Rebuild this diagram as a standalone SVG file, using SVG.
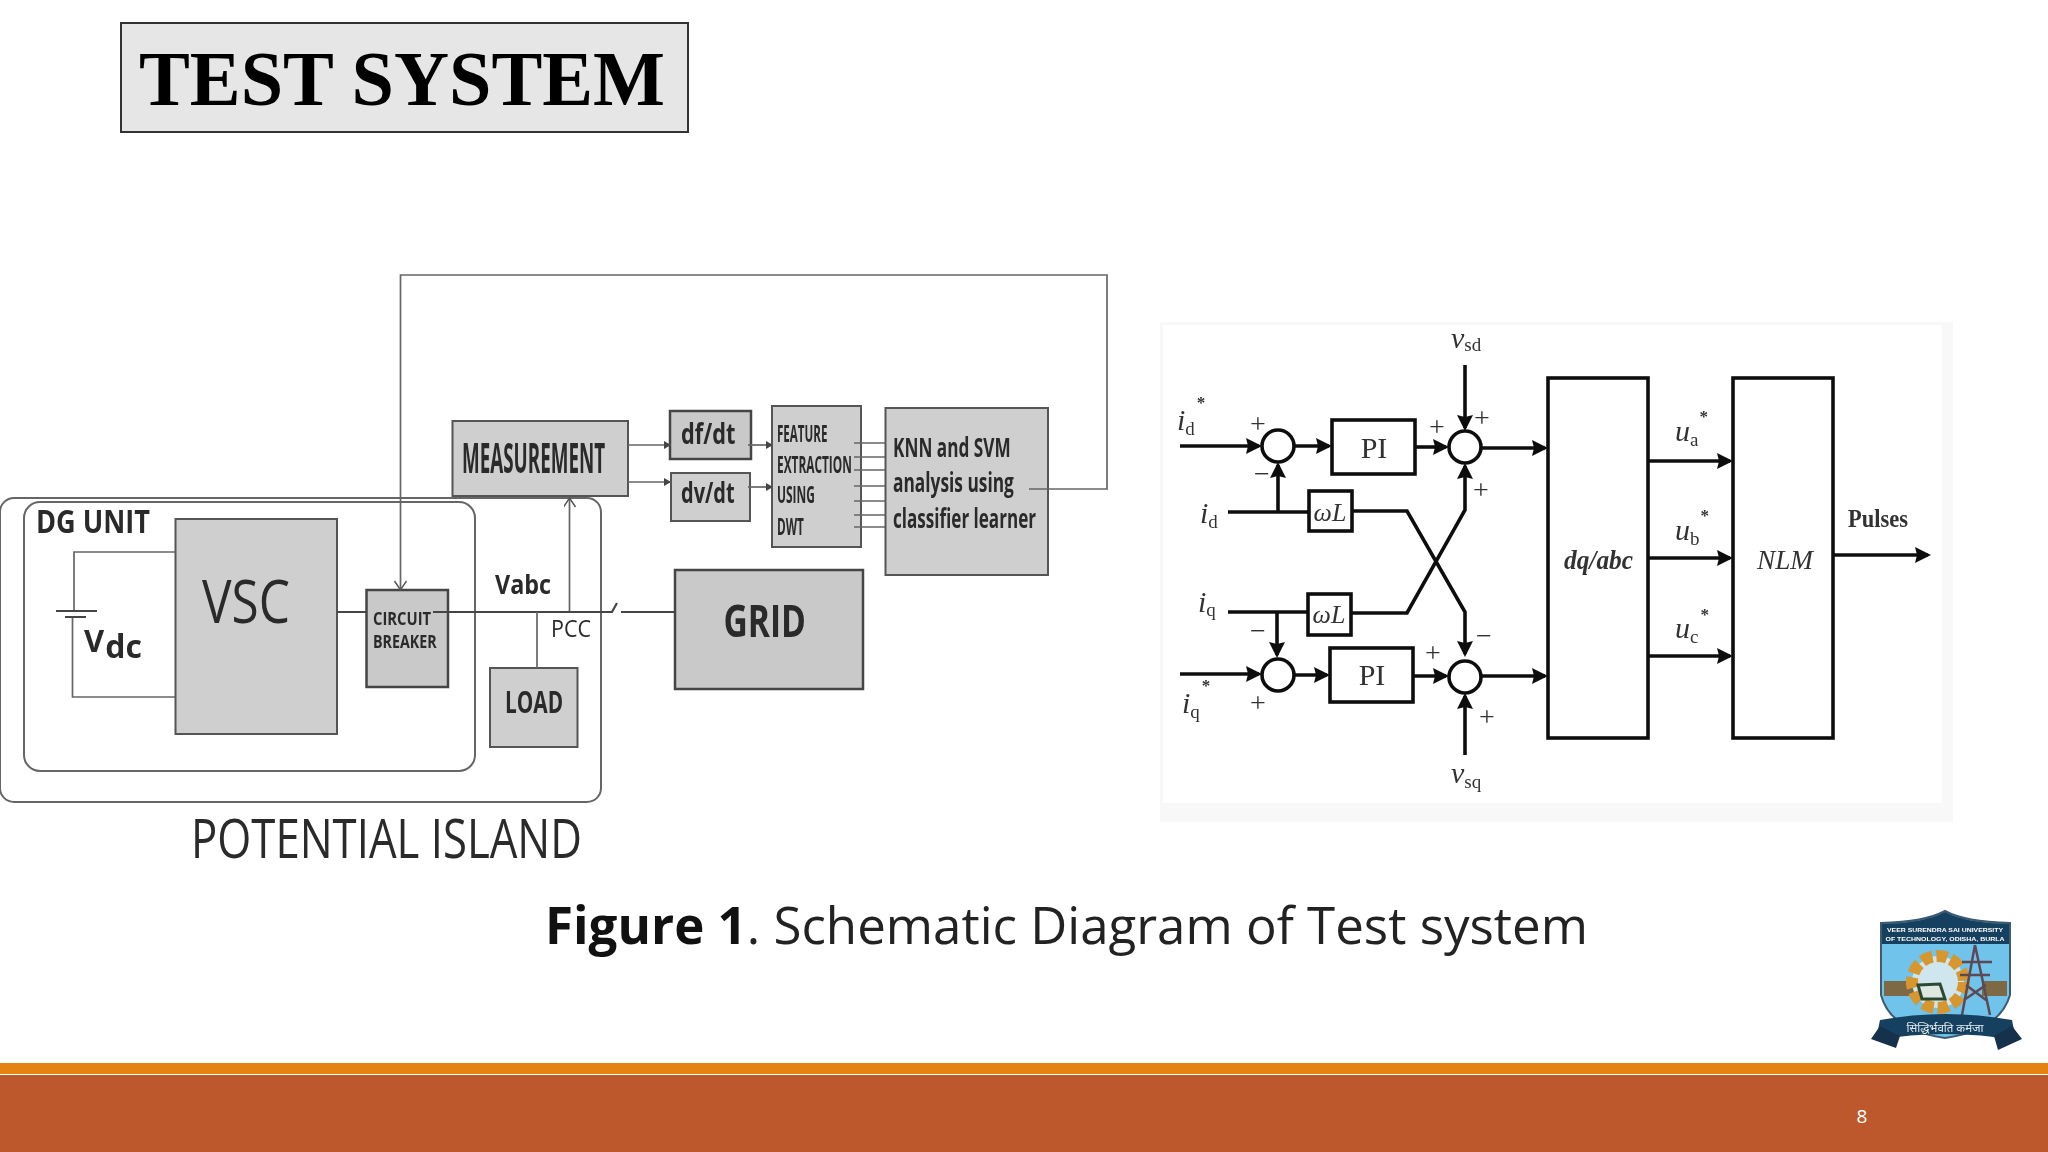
<svg xmlns="http://www.w3.org/2000/svg" width="2048" height="1152" viewBox="0 0 2048 1152">
<style>
.box{fill:#cfcfcf;stroke:#555;stroke-width:2}
.dark{fill:#c9c9c9;stroke:#444;stroke-width:2.5}
.frame{fill:none;stroke:#666;stroke-width:2}
.w{fill:none;stroke:#666;stroke-width:1.7}
.wd{fill:none;stroke:#444;stroke-width:2.2}
.k{fill:#fff;stroke:#111;stroke-width:3.6}
.ln{fill:none;stroke:#111;stroke-width:3.6}
.s{font-family:"Open Sans","DejaVu Sans",sans-serif;fill:#2b2b2b}
.b{font-weight:700}
.r{font-family:"Liberation Serif",serif;fill:#333}
.i{font-style:italic}
.sub{font-size:19px;font-style:normal}
.st{font-size:17px;font-style:normal;font-weight:700}
.p{font-family:"Liberation Serif",serif;font-size:28px;fill:#333;text-anchor:middle}
</style>
<defs>
<filter id="soft" filterUnits="userSpaceOnUse" x="0" y="0" width="2048" height="1152"><feGaussianBlur stdDeviation="0.55"/></filter>
<marker id="fa" markerUnits="userSpaceOnUse" markerWidth="20" markerHeight="20" refX="13" refY="8" orient="auto"><path d="M0 0L16 8L0 16L2 8Z" fill="#111"/></marker>
<marker id="oa" markerUnits="userSpaceOnUse" markerWidth="14" markerHeight="14" refX="10" refY="6" orient="auto"><path d="M1 0L10 6L1 12" fill="none" stroke="#555" stroke-width="1.5"/></marker>
<marker id="sa" markerUnits="userSpaceOnUse" markerWidth="10" markerHeight="10" refX="7" refY="4" orient="auto"><path d="M0 0L7 4L0 8Z" fill="#444"/></marker>
</defs>
<rect width="2048" height="1152" fill="#fff"/>

<g id="title"><rect x="121" y="23" width="567" height="109" fill="#e6e6e6" stroke="#333" stroke-width="2"/>
<text x="139" y="105" font-family="'Liberation Serif',serif" font-weight="700" font-size="78" fill="#000" textLength="526" lengthAdjust="spacingAndGlyphs">TEST SYSTEM</text></g>

<g id="panel"><rect x="1160" y="322" width="793" height="500" fill="#f8f8f8"/><rect x="1163" y="325" width="779" height="478" fill="#fff"/></g>

<g filter="url(#soft)">
<g id="potential-island"><rect x="0" y="498" width="601" height="304" rx="14" class="frame"/>
<text class="s" x="191" y="858" font-size="54" textLength="391" lengthAdjust="spacingAndGlyphs">POTENTIAL ISLAND</text></g>
<g id="dg-unit"><rect x="24" y="502" width="451" height="269" rx="16" class="frame"/>
<text class="s b" x="36" y="533" font-size="32" textLength="114" lengthAdjust="spacingAndGlyphs">DG UNIT</text></g>
<g id="vsc"><rect x="175.5" y="519" width="161.5" height="215" class="box"/>
<text class="s" x="202" y="623" font-size="60" textLength="88" lengthAdjust="spacingAndGlyphs" fill="#333">VSC</text></g>
<g id="vdc"><text class="s b" x="84" y="652" font-size="31">V<tspan dy="6" font-size="32" dx="1">dc</tspan></text></g>
<g id="circuit-breaker"><rect x="366.5" y="590" width="81.5" height="97" class="dark"/>
<text class="s b" transform="translate(373 625) scale(.7 1)" font-size="18" textLength="83" lengthAdjust="spacingAndGlyphs">CIRCUIT</text>
<text class="s b" transform="translate(373 648) scale(.7 1)" font-size="18" textLength="91" lengthAdjust="spacingAndGlyphs">BREAKER</text></g>
<g id="load"><rect x="490" y="668" width="87.5" height="79" class="box"/>
<text class="s b" transform="translate(505 713) scale(.7 1)" font-size="30" textLength="83" lengthAdjust="spacingAndGlyphs">LOAD</text></g>
<g id="measurement"><rect x="452.5" y="421" width="175.5" height="75" class="box"/>
<text class="s b" transform="translate(462 473) scale(.46 1)" font-size="41" textLength="311" lengthAdjust="spacingAndGlyphs">MEASUREMENT</text></g>
<g id="dfdt"><rect x="670" y="411" width="81" height="48" class="dark"/>
<text class="s b" transform="translate(681 444) scale(.85 1)" font-size="29" textLength="64" lengthAdjust="spacingAndGlyphs">df/dt</text></g>
<g id="dvdt"><rect x="671" y="473" width="79" height="48" class="box"/>
<text class="s b" transform="translate(681 503) scale(.8 1)" font-size="29" textLength="67" lengthAdjust="spacingAndGlyphs">dv/dt</text></g>
<g id="feature"><rect x="772" y="406" width="89" height="141" class="box"/>
<text class="s b" transform="translate(777 442) scale(.48 1)" font-size="23" textLength="105" lengthAdjust="spacingAndGlyphs">FEATURE</text>
<text class="s b" transform="translate(777 473) scale(.48 1)" font-size="23" textLength="156" lengthAdjust="spacingAndGlyphs">EXTRACTION</text>
<text class="s b" transform="translate(777 503) scale(.48 1)" font-size="23" textLength="79" lengthAdjust="spacingAndGlyphs">USING</text>
<text class="s b" transform="translate(777 535) scale(.48 1)" font-size="23" textLength="56" lengthAdjust="spacingAndGlyphs">DWT</text></g>
<g id="classifier"><rect x="885.5" y="408" width="162.5" height="167" class="box"/>
<text class="s b" transform="translate(893 457) scale(.65 1)" font-size="27" textLength="181" lengthAdjust="spacingAndGlyphs">KNN and SVM</text>
<text class="s b" transform="translate(893 492) scale(.65 1)" font-size="27" textLength="186" lengthAdjust="spacingAndGlyphs">analysis using</text>
<text class="s b" transform="translate(893 528) scale(.65 1)" font-size="27" textLength="220" lengthAdjust="spacingAndGlyphs">classifier learner</text></g>
<g id="grid"><rect x="675" y="570" width="188" height="119" class="dark"/>
<text class="s b" transform="translate(723.5 637) scale(.75 1)" font-size="45" textLength="110" lengthAdjust="spacingAndGlyphs">GRID</text></g>
<g id="labels-left">
<text class="s b" x="495" y="594" font-size="27" textLength="56" lengthAdjust="spacingAndGlyphs">Vabc</text>
<text class="s" x="551" y="637" font-size="23" textLength="40" lengthAdjust="spacingAndGlyphs">PCC</text></g>

<g id="connectors-left">
<path class="w" d="M1029 489H1107V275H400.5V590" marker-end="url(#oa)"/>
<path class="w" d="M569.5 612V498" marker-end="url(#oa)"/>
<path class="wd" d="M337 612H366M433 612H612L617 603M621 612H675"/>
<path class="w" d="M537 612V668"/>
<path class="w" d="M175 552H74V611M175 697H72.5V617"/>
<path class="wd" d="M56 611H97M65 617H86"/>
<path class="w" d="M628 445H671" marker-end="url(#sa)"/>
<path class="w" d="M628 482H671" marker-end="url(#sa)"/>
<path class="w" d="M748 445H773" marker-end="url(#sa)"/>
<path class="w" d="M748 487H773" marker-end="url(#sa)"/>
<path class="w" d="M854 443H885M854 457H885M854 470H885M854 486H885M854 501H885M854 515H885M854 527H885"/>
</g>

<g id="connectors-right">
<path class="ln" d="M1180 446H1259" marker-end="url(#fa)"/>
<path class="ln" d="M1294 446H1329" marker-end="url(#fa)"/>
<path class="ln" d="M1415 447H1446" marker-end="url(#fa)"/>
<path class="ln" d="M1481 448H1545" marker-end="url(#fa)"/>
<path class="ln" d="M1465 365V428" marker-end="url(#fa)"/>
<path class="ln" d="M1228 512H1309M1352 511H1407L1465 612V654" marker-end="url(#fa)"/>
<path class="ln" d="M1228 612H1308M1352 613H1407L1465 510V466" marker-end="url(#fa)"/>
<path class="ln" d="M1278 512V465" marker-end="url(#fa)"/>
<path class="ln" d="M1277 612V655" marker-end="url(#fa)"/>
<path class="ln" d="M1180 674H1259" marker-end="url(#fa)"/>
<path class="ln" d="M1294 675H1327" marker-end="url(#fa)"/>
<path class="ln" d="M1413 676H1446" marker-end="url(#fa)"/>
<path class="ln" d="M1481 676H1545" marker-end="url(#fa)"/>
<path class="ln" d="M1465 755V696" marker-end="url(#fa)"/>
<path class="ln" d="M1648 461H1730" marker-end="url(#fa)"/>
<path class="ln" d="M1648 558H1730" marker-end="url(#fa)"/>
<path class="ln" d="M1648 656H1730" marker-end="url(#fa)"/>
<path class="ln" d="M1833 555H1928" marker-end="url(#fa)"/>
</g>

<g id="sum1"><circle cx="1278" cy="446" r="16" class="k"/></g>
<g id="sum2"><circle cx="1465" cy="447" r="16" class="k"/></g>
<g id="sum3"><circle cx="1278" cy="675" r="16" class="k"/></g>
<g id="sum4"><circle cx="1465" cy="677" r="16" class="k"/></g>
<g id="pi1"><rect x="1332" y="420" width="83" height="54" class="k"/><text class="r" x="1374" y="458" font-size="30" text-anchor="middle">PI</text></g>
<g id="pi2"><rect x="1330" y="648" width="83" height="54" class="k"/><text class="r" x="1372" y="685" font-size="30" text-anchor="middle">PI</text></g>
<g id="wl1"><rect x="1309" y="491" width="43" height="40" class="k"/><text class="r i" x="1330" y="521" font-size="26" text-anchor="middle" fill="#555">ωL</text></g>
<g id="wl2"><rect x="1308" y="594" width="43" height="41" class="k"/><text class="r i" x="1329" y="623" font-size="26" text-anchor="middle" fill="#555">ωL</text></g>
<g id="dqabc"><rect x="1548" y="378" width="100" height="360" class="k"/><text class="r i b" x="1564" y="569" font-size="28" textLength="69" lengthAdjust="spacingAndGlyphs">dq/abc</text></g>
<g id="nlm"><rect x="1733" y="378" width="100" height="360" class="k"/><text class="r i" x="1757" y="569" font-size="28" textLength="56" lengthAdjust="spacingAndGlyphs">NLM</text></g>

<g id="labels-right">
<text class="r i" x="1177" y="430" font-size="30">i<tspan class="sub" dy="5">d</tspan><tspan class="st" dx="2" dy="-27">*</tspan></text>
<text class="r i" x="1200" y="523" font-size="30">i<tspan class="sub" dy="5">d</tspan></text>
<text class="r i" x="1198" y="612" font-size="30">i<tspan class="sub" dy="4">q</tspan></text>
<text class="r i" x="1182" y="713" font-size="30">i<tspan class="sub" dy="5">q</tspan><tspan class="st" dx="2" dy="-27">*</tspan></text>
<text class="r i" x="1451" y="348" font-size="30">v<tspan class="sub" dy="3">sd</tspan></text>
<text class="r i" x="1451" y="783" font-size="30">v<tspan class="sub" dy="5">sq</tspan></text>
<text class="r i" x="1675" y="441" font-size="30">u<tspan class="sub" dy="5">a</tspan><tspan class="st" dx="1" dy="-24">*</tspan></text>
<text class="r i" x="1675" y="540" font-size="30">u<tspan class="sub" dy="5">b</tspan><tspan class="st" dx="1" dy="-24">*</tspan></text>
<text class="r i" x="1675" y="638" font-size="30">u<tspan class="sub" dy="5">c</tspan><tspan class="st" dx="2" dy="-23">*</tspan></text>
<text class="r b" x="1848" y="527" font-size="26" textLength="60" lengthAdjust="spacingAndGlyphs">Pulses</text>
<text class="p" x="1258" y="433">+</text><text class="p" x="1262" y="483">−</text>
<text class="p" x="1437" y="436">+</text><text class="p" x="1482" y="427">+</text>
<text class="p" x="1481" y="499">+</text><text class="p" x="1258" y="640">−</text>
<text class="p" x="1258" y="712">+</text><text class="p" x="1433" y="662">+</text>
<text class="p" x="1484" y="645">−</text><text class="p" x="1487" y="726">+</text>
</g>
</g>

<g id="caption"><text x="545" y="944" font-family="'Open Sans','Noto Sans',sans-serif" font-size="52" fill="#222" textLength="1043" lengthAdjust="spacingAndGlyphs"><tspan font-weight="700" fill="#111">Figure 1</tspan>. Schematic Diagram of Test system</text></g>

<g id="logo" filter="url(#soft)">
<path d="M1881 923Q1925 922 1945 911Q1965 922 2010 923V995Q2000 1030 1945 1038Q1890 1030 1881 995Z" fill="#6fc3ea" stroke="#3e5a70" stroke-width="2"/>
<path d="M1882 924Q1925 923 1945 912Q1965 923 2009 924V944H1882Z" fill="#17405f"/>
<text x="1945" y="932" font-family="'Liberation Sans',sans-serif" font-weight="700" font-size="6.2" fill="#fff" text-anchor="middle" textLength="116" lengthAdjust="spacingAndGlyphs">VEER SURENDRA SAI UNIVERSITY</text>
<text x="1945" y="941" font-family="'Liberation Sans',sans-serif" font-weight="700" font-size="6.2" fill="#fff" text-anchor="middle" textLength="119" lengthAdjust="spacingAndGlyphs">OF TECHNOLOGY, ODISHA, BURLA</text>
<path d="M1884 981H1915V996H1884ZM1982 981H2007V996H1982Z" fill="#7d6a45"/>
<circle cx="1938" cy="982" r="26" fill="#d0e6ee" stroke="#d8962f" stroke-width="12" stroke-dasharray="11 4"/>
<path d="M1918 985L1940 984L1945 999H1922Z" fill="#dfe8e0" stroke="#2c4a30" stroke-width="3"/>
<path d="M1975 945L1962 1015M1975 945L1990 1015M1962 962H1992M1960 975H1990M1964 1000L1986 985M1986 1000L1966 985" fill="none" stroke="#5b4a55" stroke-width="2.5"/>
<path d="M1880 1020Q1945 1008 2012 1020L2016 1040Q1945 1028 1876 1040Z" fill="#17405f"/>
<path d="M1880 1026L1871 1039L1896 1048L1900 1036ZM2012 1026L2022 1039L1998 1050L1994 1036Z" fill="#12324c"/>
<text x="1945" y="1032" font-family="'Noto Sans','DejaVu Sans',sans-serif" font-size="11.5" fill="#dfe8ee" text-anchor="middle">सिद्धिर्भवति कर्मजा</text>
</g>

<g id="footer"><rect x="0" y="1063" width="2048" height="11" fill="#e48312"/><rect x="0" y="1075" width="2048" height="77" fill="#bd582c"/>
<text x="1862" y="1123" font-family="'Open Sans',sans-serif" font-size="19" fill="#fff" text-anchor="middle">8</text></g>
</svg>
